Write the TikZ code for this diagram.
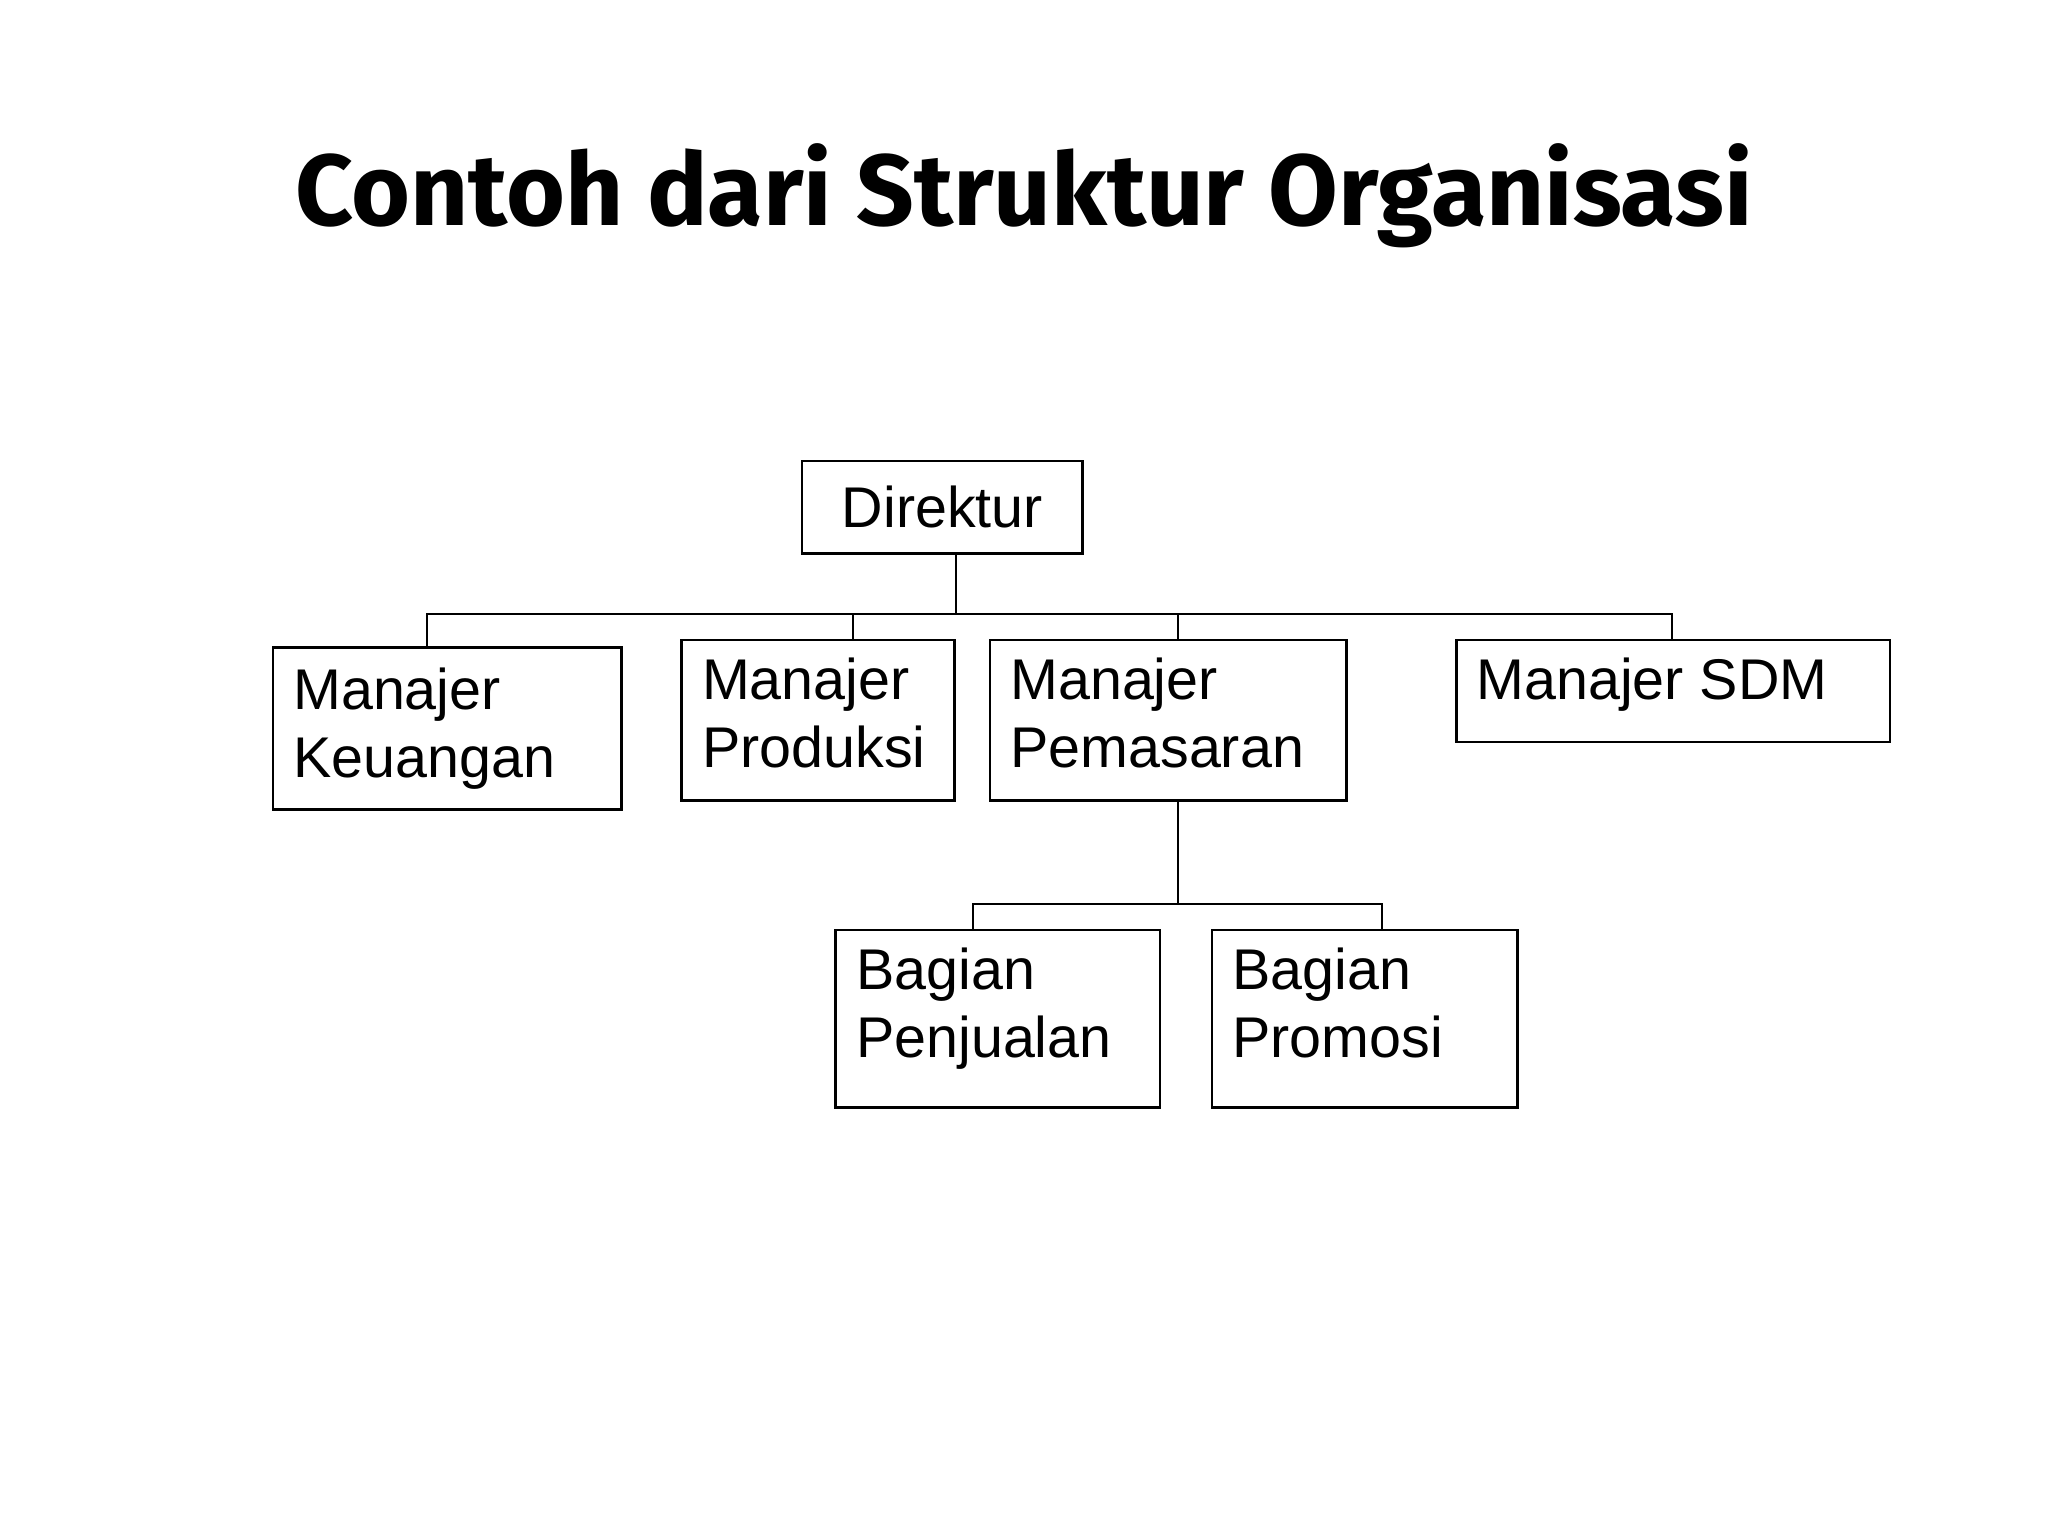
\documentclass[tikz,border=0pt]{standalone}
\usepackage{fontspec}
\setmainfont{Liberation Sans}
\newfontfamily\titlefont{Fira Sans}
\usetikzlibrary{calc}
\begin{document}
\begin{tikzpicture}[x=0.01cm,y=0.01cm,
  box/.style={draw,line width=0.6pt,inner sep=0pt},
  lbl/.style={anchor=north west,inner sep=0pt,align=left,font=\fontsize{12.5}{14.8}\selectfont},
  conn/.style={line width=0.5pt}]
\useasboundingbox (0,0) rectangle (1568,-1176);
\node[font=\titlefont\bfseries\fontsize{22}{26}\selectfont] (title) at (784,-150) {Contoh dari Struktur Organisasi};
\node[box,minimum width=2.15cm,minimum height=0.71cm,font=\fontsize{12.5}{14.8}\selectfont] (dir) at (721.5,-388.5) {Direktur};
\node[box,minimum width=2.67cm,minimum height=1.24cm] (keu) at (342.5,-558) {};
\node[box,minimum width=2.09cm,minimum height=1.23cm] (pro) at (626.5,-551.5) {};
\node[box,minimum width=2.73cm,minimum height=1.23cm] (pem) at (894.5,-551.5) {};
\node[box,minimum width=3.32cm,minimum height=0.78cm] (sdm) at (1281,-529) {};
\node[box,minimum width=2.48cm,minimum height=1.36cm] (pen) at (764,-780) {};
\node[box,minimum width=2.34cm,minimum height=1.36cm] (prm) at (1045,-780) {};
\node[lbl] (tkeu) at ($(keu.north west)+(16,-16)$) {Manajer\\Keuangan};
\node[lbl] (tpro) at ($(pro.north west)+(16,-14)$) {Manajer\\Produksi};
\node[lbl] (tpem) at ($(pem.north west)+(16,-14)$) {Manajer\\Pemasaran};
\node[lbl] (tsdm) at ($(sdm.north west)+(16,-14)$) {Manajer SDM};
\node[lbl] (tpen) at ($(pen.north west)+(16,-14)$) {Bagian\\Penjualan};
\node[lbl] (tprm) at ($(prm.north west)+(16,-14)$) {Bagian\\Promosi};
\coordinate (s) at (732,-470);
\coordinate (b1) at (327,-470);
\coordinate (b2) at (653,-470);
\coordinate (b3) at (902,-470);
\coordinate (b4) at (1280,-470);
\draw[conn] (s |- dir.south) -- (s);
\draw[conn] (b1 |- keu.north) -- (b1) -- (b4) -- (b4 |- sdm.north);
\draw[conn] (b2) -- (b2 |- pro.north);
\draw[conn] (b3) -- (b3 |- pem.north);
\coordinate (m) at (902,-692);
\coordinate (c1) at (745,-692);
\coordinate (c2) at (1058,-692);
\draw[conn] (m |- pem.south) -- (m);
\draw[conn] (c1 |- pen.north) -- (c1) -- (c2) -- (c2 |- prm.north);
\end{tikzpicture}
\end{document}
